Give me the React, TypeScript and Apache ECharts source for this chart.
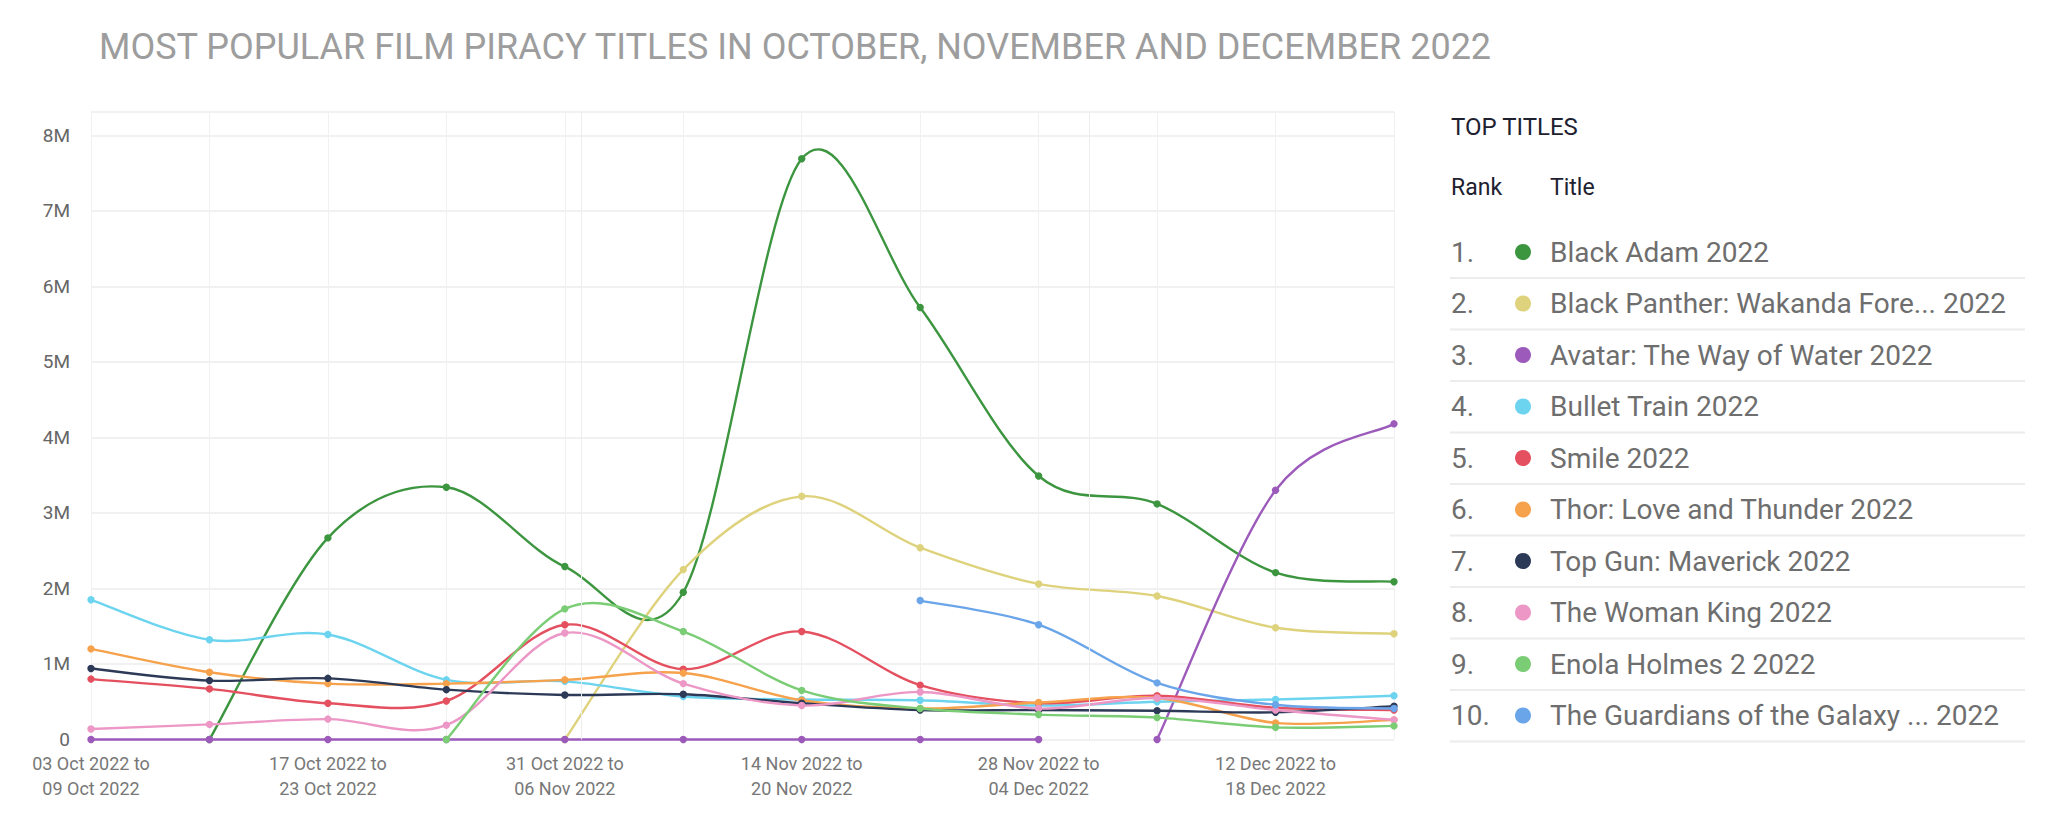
import { useEffect, useRef } from 'react';
import * as echarts from 'echarts';

// Week buckets (x categories)
const weeks: string[] = [
  '03 Oct 2022 to\n09 Oct 2022',
  '10 Oct 2022 to\n16 Oct 2022',
  '17 Oct 2022 to\n23 Oct 2022',
  '24 Oct 2022 to\n30 Oct 2022',
  '31 Oct 2022 to\n06 Nov 2022',
  '07 Nov 2022 to\n13 Nov 2022',
  '14 Nov 2022 to\n20 Nov 2022',
  '21 Nov 2022 to\n27 Nov 2022',
  '28 Nov 2022 to\n04 Dec 2022',
  '05 Dec 2022 to\n11 Dec 2022',
  '12 Dec 2022 to\n18 Dec 2022',
  '19 Dec 2022 to\n25 Dec 2022',
];

// Month starts, in weeks after 03 Oct 2022 (01 Nov = day 29, 01 Dec = day 59)
const monthStarts: number[] = [29 / 7, 59 / 7];

// Downloads, millions
const blackAdam = [null, 0, 2.67, 3.34, 2.29, 1.95, 7.69, 5.72, 3.49, 3.12, 2.21, 2.09];
const blackPanther = [null, null, null, null, 0, 2.25, 3.22, 2.54, 2.06, 1.9, 1.48, 1.4];
const avatar = [0, 0, 0, 0, 0, 0, 0, 0, 0, 0, 3.3, 4.18];
const avatarBreakAfter = 8; // no line drawn between week 9 and week 10
const bulletTrain = [1.85, 1.32, 1.39, 0.79, 0.77, 0.57, 0.53, 0.52, 0.45, 0.5, 0.53, 0.58];
const smile = [0.8, 0.67, 0.48, 0.51, 1.52, 0.93, 1.43, 0.72, 0.48, 0.58, 0.42, 0.39];
const thor = [1.2, 0.89, 0.74, 0.74, 0.79, 0.88, 0.52, 0.41, 0.49, 0.55, 0.22, 0.26];
const topGun = [0.94, 0.78, 0.81, 0.66, 0.59, 0.6, 0.48, 0.39, 0.39, 0.38, 0.36, 0.44];
const womanKing = [0.14, 0.2, 0.27, 0.19, 1.41, 0.74, 0.45, 0.63, 0.41, 0.55, 0.39, 0.26];
const enolaHolmes = [null, null, null, 0, 1.73, 1.43, 0.65, 0.41, 0.33, 0.29, 0.16, 0.18];
const guardians = [null, null, null, null, null, null, null, 1.84, 1.52, 0.75, 0.46, 0.41];

const titles: string[] = [
  'Black Adam 2022',
  'Black Panther: Wakanda Fore... 2022',
  'Avatar: The Way of Water 2022',
  'Bullet Train 2022',
  'Smile 2022',
  'Thor: Love and Thunder 2022',
  'Top Gun: Maverick 2022',
  'The Woman King 2022',
  'Enola Holmes 2 2022',
  'The Guardians of the Galaxy ... 2022',
];
const colors: string[] = [
  '#3c953f', '#ded27c', '#9c5abb', '#6dd4f0', '#e4505f',
  '#f6a14b', '#2c3957', '#ec97c5', '#7acd74', '#6aa5e9',
];
const seriesValues: (number | null)[][] = [
  blackAdam, blackPanther, avatar, bulletTrain, smile,
  thor, topGun, womanKing, enolaHolmes, guardians,
];

const yMaxM = 8.31;
const FONT = 'Roboto, "Noto Sans", sans-serif';

// Catmull-Rom spline line, drawn segment by segment through the axes
function splineSeries(name: string, data: (number | null)[], color: string) {
  return {
    name,
    type: 'custom',
    coordinateSystem: 'cartesian2d',
    encode: { x: 0, y: 1 },
    data: data.map((v, k) => [k, v === null ? '-' : v]),
    clip: false,
    renderItem: (params: any, api: any) => {
      const n = params.dataInsideLength;
      const i = params.dataIndexInside;
      const valid = (j: number) => {
        if (j < 0 || j >= n) return false;
        const y = api.value(1, j);
        return typeof y === 'number' && isFinite(y);
      };
      if (!valid(i)) return null;
      const pt = (j: number) => api.coord([api.value(0, j), api.value(1, j)]);
      const p1 = pt(i);
      const children: any[] = [];
      if (valid(i + 1)) {
        const p2 = pt(i + 1);
        const p0 = valid(i - 1) ? pt(i - 1) : p1;
        const p3 = valid(i + 2) ? pt(i + 2) : p2;
        children.push({
          type: 'bezierCurve',
          shape: {
            x1: p1[0], y1: p1[1],
            x2: p2[0], y2: p2[1],
            cpx1: p1[0] + (p2[0] - p0[0]) / 6,
            cpy1: p1[1] + (p2[1] - p0[1]) / 6,
            cpx2: p2[0] - (p3[0] - p1[0]) / 6,
            cpy2: p2[1] - (p3[1] - p1[1]) / 6,
          },
          style: { stroke: color, lineWidth: 2.4, fill: 'none' },
        });
      }
      children.push({
        type: 'circle',
        shape: { cx: p1[0], cy: p1[1], r: 3.7 },
        style: { fill: color },
      });
      return { type: 'group', children };
    },
  };
}

export default function App() {
  const ref = useRef<HTMLDivElement>(null);

  useEffect(() => {
    if (!ref.current) return;
    const chart = echarts.init(ref.current, undefined, { renderer: 'svg' });

    const series: any[] = [];
    // Month boundary lines
    series.push({
      type: 'line',
      xAxisIndex: 1,
      yAxisIndex: 0,
      data: [],
      silent: true,
      markLine: {
        silent: true,
        symbol: 'none',
        label: { show: false },
        lineStyle: { color: '#ededed', type: 'solid', width: 1 },
        data: monthStarts.map((v) => ({ xAxis: v })),
      },
    });
    seriesValues.forEach((vals, i) => {
      if (vals === avatar) {
        const early = vals.map((v, k) => (k <= avatarBreakAfter ? v : null));
        const late = vals.map((v, k) => (k > avatarBreakAfter ? v : null));
        series.push(splineSeries(titles[i], early, colors[i]));
        series.push(splineSeries(titles[i], late, colors[i]));
      } else {
        series.push(splineSeries(titles[i], vals, colors[i]));
      }
    });

    // Legend table on the right
    const legendX = 1451;
    const dotX = 1523;
    const textX = 1550;
    const row0 = 252;
    const rowH = 51.5;
    const graphic: any[] = [
      {
        type: 'text', x: legendX, y: 127,
        style: { text: 'TOP TITLES', fill: '#1e2130', font: `24px ${FONT}`, verticalAlign: 'middle', align: 'left' },
      },
      {
        type: 'text', x: legendX, y: 187,
        style: { text: 'Rank', fill: '#1e2130', font: `23px ${FONT}`, verticalAlign: 'middle', align: 'left' },
      },
      {
        type: 'text', x: textX, y: 187,
        style: { text: 'Title', fill: '#1e2130', font: `23px ${FONT}`, verticalAlign: 'middle', align: 'left' },
      },
    ];
    titles.forEach((t, i) => {
      const cy = row0 + i * rowH;
      graphic.push({
        type: 'text', x: legendX, y: cy,
        style: { text: `${i + 1}.`, fill: '#6e6e6e', font: `28px ${FONT}`, verticalAlign: 'middle', align: 'left' },
      });
      graphic.push({
        type: 'circle', shape: { cx: dotX, cy, r: 8 }, style: { fill: colors[i] },
      });
      graphic.push({
        type: 'text', x: textX, y: cy,
        style: { text: t, fill: '#6e6e6e', font: `28px ${FONT}`, verticalAlign: 'middle', align: 'left' },
      });
      graphic.push({
        type: 'line', shape: { x1: 1450, y1: cy + 26, x2: 2025, y2: cy + 26 },
        style: { stroke: '#ececec', lineWidth: 2 },
      });
    });

    chart.setOption({
      animation: false,
      backgroundColor: '#ffffff',
      title: {
        text: 'MOST POPULAR FILM PIRACY TITLES IN OCTOBER, NOVEMBER AND DECEMBER 2022',
        left: 99,
        top: 29,
        padding: 0,
        textStyle: { fontSize: 36, fontWeight: 'normal', color: '#9d9d9d', fontFamily: FONT, lineHeight: 36 },
      },
      grid: { left: 91, right: 654, top: 112, bottom: 94.5, containLabel: false },
      xAxis: [
        {
          type: 'category',
          data: weeks,
          boundaryGap: false,
          axisLine: { show: false },
          axisTick: { show: false },
          splitLine: { show: true, interval: 0, lineStyle: { color: '#f1f1f1', width: 1 } },
          axisLabel: {
            interval: 1,
            color: '#777777',
            fontSize: 18,
            fontFamily: FONT,
            lineHeight: 25,
            margin: 11,
            align: 'center',
          },
        },
        { type: 'value', min: 0, max: weeks.length - 1, show: false },
      ],
      yAxis: {
        type: 'value',
        min: 0,
        max: yMaxM,
        interval: 1,
        axisLine: { show: false },
        axisTick: { show: false },
        splitLine: { show: true, lineStyle: { color: '#ececec', width: 1.5 } },
        axisLabel: {
          color: '#666666',
          fontSize: 19,
          fontFamily: FONT,
          margin: 21,
          formatter: (v: number) => (Math.abs(v - Math.round(v)) > 1e-6 ? '' : v === 0 ? '0' : `${Math.round(v)}M`),
        },
      },
      graphic,
      series,
    });

    return () => chart.dispose();
  }, []);

  return (
    <div
      ref={ref}
      style={{ position: 'absolute', left: 0, top: 0, width: 2048, height: 834, background: '#fff' }}
    />
  );
}
